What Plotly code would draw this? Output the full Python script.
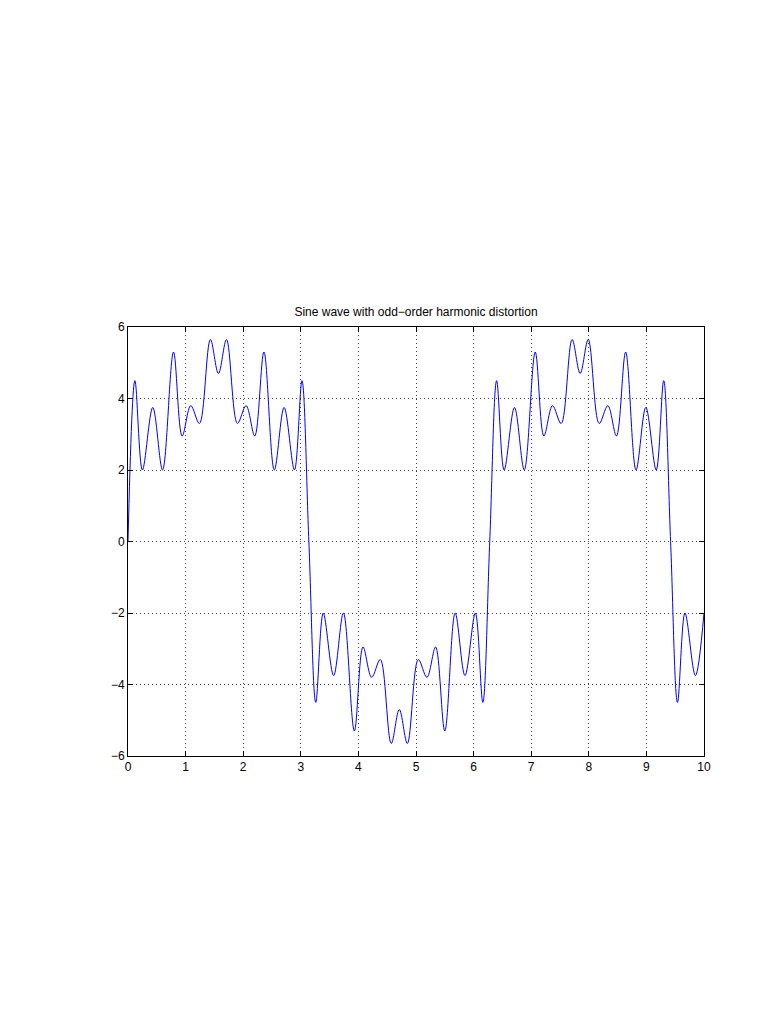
import plotly.graph_objects as go

# extrema, in order along t
t_vals = [0, 0.12, 0.25, 0.43, 0.6, 0.79, 0.94, 1.09, 1.24, 1.43, 1.57, 1.71, 1.9, 2.05, 2.2, 2.36, 2.54, 2.71, 2.89, 3.02,
          3.14, 3.26, 3.39, 3.57, 3.74, 3.93, 4.08, 4.23, 4.38, 4.57, 4.71, 4.85, 5.04, 5.19, 5.34, 5.5, 5.68, 5.85, 6.03, 6.16,
          6.28, 6.40, 6.53, 6.71, 6.88, 7.07, 7.22, 7.37, 7.52, 7.71, 7.85, 7.99, 8.18, 8.33, 8.48, 8.64, 8.82, 8.99, 9.17, 9.30,
          9.42, 9.54, 9.67, 9.85, 10.0]
y_vals = [0, 4.5, 2.0, 3.75, 2.0, 5.3, 2.95, 3.8, 3.3, 5.65, 4.7, 5.65, 3.3, 3.8, 2.95, 5.3, 2.0, 3.75, 2.0, 4.5,
          0, -4.5, -2.0, -3.75, -2.0, -5.3, -2.95, -3.8, -3.3, -5.65, -4.7, -5.65, -3.3, -3.8, -2.95, -5.3, -2.0, -3.75, -2.0, -4.5,
          0, 4.5, 2.0, 3.75, 2.0, 5.3, 2.95, 3.8, 3.3, 5.65, 4.7, 5.65, 3.3, 3.8, 2.95, 5.3, 2.0, 3.75, 2.0, 4.5,
          0, -4.5, -2.0, -3.75, -2.0]

fig = go.Figure()
fig.add_trace(go.Scatter(x=t_vals, y=y_vals, mode='lines',
                         line=dict(color='blue', width=1, shape='spline', smoothing=1.0)))

axis = dict(showgrid=True, gridcolor='#444444', griddash='1px,3px', gridwidth=0.8,
            showline=True, linecolor='black', linewidth=1, mirror='ticks',
            ticks='inside', ticklen=5, tickcolor='black', zeroline=False, automargin=False,
            tickfont=dict(size=12, color='black'))
fig.update_xaxes(**axis)
fig.update_yaxes(**axis)
fig.update_xaxes(range=[0, 10], dtick=1)
fig.update_yaxes(range=[-6, 6], tickvals=[-6, -4, -2, 0, 2, 4, 6],
                 ticktext=['\u22126', '\u22124', '\u22122', '0', '2', '4', '6'])

fig.update_layout(
    width=768, height=1024,
    margin=dict(l=120, r=72, t=319, b=276, autoexpand=False),
    paper_bgcolor='white', plot_bgcolor='white',
    showlegend=False,
    font=dict(family='Liberation Sans, Arial', color='black'),
    title=dict(text='Sine wave with odd\u2212order harmonic distortion', x=0.5, xref='paper',
               y=1 - 304 / 1024, yanchor='middle', font=dict(size=12, color='black')),
)

fig.write_html("out.html")
